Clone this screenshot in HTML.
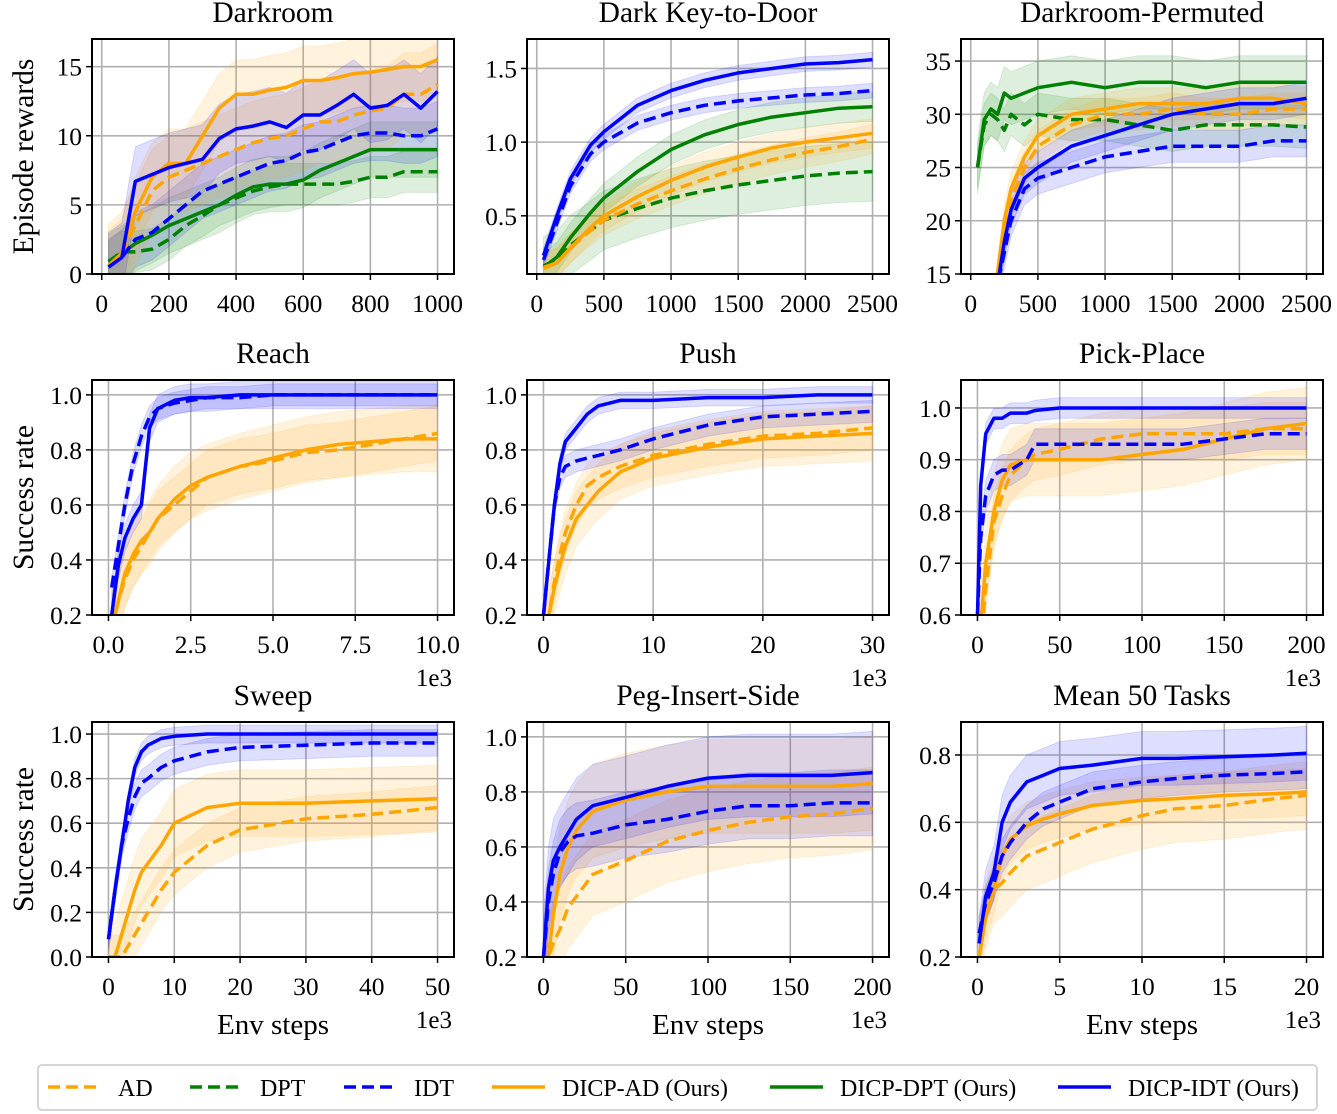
<!DOCTYPE html>
<html><head><meta charset="utf-8"><style>
html,body{margin:0;padding:0;background:#fff;}
svg{display:block;font-family:"Liberation Serif",serif;}
</style></head><body>
<svg id="fig" width="1337" height="1114" viewBox="0 0 1337 1114" xmlns="http://www.w3.org/2000/svg"></svg>
<script>
// ---- data ----
const p1_x=[20,60,100,150,200,250,300,350,400,450,500,550,600,650,700,750,800,850,900,950,1000];
const p1_dicpAD=[0.6,1.5,4.5,7,8,8,10,12,13,13,13.3,13.5,14,14,14.2,14.5,14.6,14.8,15,15,15.5];
const p1_AD=[0.6,1.5,3.5,6,7,7.5,8,8.5,9,9.5,9.8,10,10.5,11,11,11.5,11.8,12,13,13,13.7];
const p1_dicpIDT=[0.5,1.2,6.7,7.2,7.7,8,8.3,9.8,10.5,10.7,11,10.6,11.5,11.5,12.2,13,12,12.2,13,12,13.2];
const p1_IDT=[0.5,1.2,2.5,3,4,5,6,6.5,7,7.5,8,8.2,8.8,9,9.5,10,10.2,10.2,10,10,10.5];
const p1_dicpDPT=[0.9,1.5,2.2,2.8,3.5,4,4.5,5,5.7,6.3,6.5,6.5,6.8,7.5,8,8.5,9,9,9,9,9];
const p1_DPT=[0.9,1.6,1.6,1.8,2.5,3.5,4.2,5,5.5,6,6.3,6.5,6.5,6.5,6.5,6.7,7,7,7.4,7.4,7.4];

const p2_x=[50,150,250,400,500,750,1000,1250,1500,1750,2000,2250,2500];
const p2_dicpIDT=[0.23,0.5,0.75,0.98,1.07,1.25,1.35,1.42,1.47,1.5,1.53,1.54,1.56];
const p2_IDT=[0.2,0.45,0.7,0.92,1.0,1.13,1.2,1.25,1.28,1.3,1.32,1.33,1.35];
const p2_dicpDPT=[0.15,0.22,0.35,0.52,0.62,0.8,0.95,1.05,1.12,1.17,1.2,1.23,1.24];
const p2_dicpAD=[0.15,0.18,0.28,0.42,0.5,0.63,0.74,0.83,0.9,0.96,1.0,1.03,1.06];
const p2_AD=[0.14,0.18,0.28,0.4,0.47,0.58,0.67,0.75,0.82,0.88,0.93,0.97,1.02];
const p2_DPT=[0.16,0.2,0.3,0.4,0.47,0.55,0.62,0.67,0.71,0.74,0.77,0.79,0.8];

const p3_x=[50,100,150,200,250,300,400,500,750,1000,1250,1500,1750,2000,2250,2500];
const p3_dicpDPT=[25,29.5,30.5,30,32,31.5,32,32.5,33,32.5,33,33,32.5,33,33,33];
const p3_DPT=[25,29,30,29.5,28.5,30,29,30,29.5,29.5,29,28.5,29,29,29,28.8];
const p3_dicpAD=[5,5,10,15,20,23,26,28,30,30.5,31,31,31,31.5,31.5,31];
const p3_AD=[5,5,10,15,19,22,25,27,29,30,30,30.5,30,30,30.5,30.5];
const p3_dicpIDT=[5,5,10,14,18,21,24,25,27,28,29,30,30.5,31,31,31.5];
const p3_IDT=[5,5,10,14,17,20,23,24,25,26,26.5,27,27,27,27.5,27.5];

const p4_x=[0.1,0.3,0.5,0.75,1,1.25,1.5,2,2.5,3,4,5,6,7,8,9,10];
const p4_dicpIDT=[0.2,0.38,0.48,0.55,0.6,0.88,0.95,0.98,0.99,0.99,1,1,1,1,1,1,1];
const p4_IDT=[0.3,0.45,0.6,0.75,0.85,0.92,0.95,0.97,0.98,0.99,0.99,1,1,1,1,1,1];
const p4_dicpAD=[0.15,0.25,0.35,0.42,0.47,0.5,0.55,0.62,0.67,0.7,0.74,0.77,0.8,0.82,0.83,0.84,0.84];
const p4_AD=[0.15,0.25,0.33,0.4,0.45,0.5,0.55,0.6,0.65,0.7,0.74,0.76,0.79,0.8,0.82,0.84,0.86];

const p5_x=[0,0.5,1,1.5,2,3,4,5,7,10,15,20,25,30];
const p5_dicpIDT=[0.2,0.4,0.6,0.75,0.83,0.88,0.93,0.96,0.98,0.98,0.99,0.99,1,1];
const p5_IDT=[0.2,0.4,0.6,0.7,0.74,0.76,0.77,0.78,0.8,0.84,0.89,0.92,0.93,0.94];
const p5_dicpAD=[0.1,0.2,0.3,0.38,0.45,0.55,0.6,0.65,0.72,0.77,0.81,0.84,0.85,0.86];
const p5_AD=[0.1,0.2,0.32,0.42,0.5,0.6,0.67,0.7,0.74,0.78,0.82,0.85,0.86,0.88];

const p6_x=[0,2,5,10,15,20,30,35,50,75,100,125,150,175,200];
const p6_dicpIDT=[0.6,0.85,0.95,0.98,0.98,0.99,0.99,0.995,1,1,1,1,1,1,1];
const p6_IDT=[0.6,0.75,0.83,0.87,0.88,0.88,0.9,0.93,0.93,0.93,0.93,0.93,0.94,0.95,0.95];
const p6_dicpAD=[0.5,0.58,0.7,0.8,0.86,0.89,0.9,0.9,0.9,0.9,0.91,0.92,0.94,0.96,0.97];
const p6_AD=[0.5,0.55,0.65,0.78,0.83,0.87,0.9,0.91,0.92,0.94,0.95,0.95,0.95,0.96,0.96];

const p7_x=[0,1,2,3,4,5,6,8,10,15,20,30,40,50];
const p7_dicpIDT=[0.08,0.3,0.5,0.7,0.85,0.92,0.95,0.98,0.99,1,1,1,1,1];
const p7_IDT=[0.08,0.3,0.5,0.62,0.72,0.78,0.8,0.85,0.88,0.92,0.94,0.95,0.96,0.96];
const p7_dicpAD=[0,0,0.1,0.2,0.3,0.38,0.42,0.5,0.6,0.67,0.69,0.69,0.7,0.71];
const p7_AD=[0,0,0,0.05,0.1,0.15,0.2,0.3,0.38,0.5,0.57,0.62,0.64,0.67];

const p8_x=[0,3,6,10,15,20,30,50,75,100,125,150,175,200];
const p8_dicpIDT=[0.2,0.45,0.55,0.6,0.65,0.7,0.75,0.78,0.82,0.85,0.86,0.86,0.86,0.87];
const p8_IDT=[0.2,0.4,0.5,0.58,0.62,0.64,0.65,0.68,0.7,0.73,0.75,0.75,0.76,0.76];
const p8_dicpAD=[0.15,0.2,0.35,0.5,0.6,0.66,0.73,0.77,0.8,0.82,0.82,0.82,0.82,0.83];
const p8_AD=[0.15,0.2,0.25,0.3,0.38,0.42,0.5,0.55,0.62,0.66,0.69,0.71,0.72,0.74];

const p9_x=[0.1,0.5,1,1.5,2,3,4,5,7,10,12,15,18,20];
const p9_dicpIDT=[0.24,0.38,0.45,0.6,0.66,0.72,0.74,0.76,0.77,0.79,0.79,0.795,0.8,0.805];
const p9_IDT=[0.27,0.36,0.42,0.5,0.54,0.6,0.64,0.66,0.7,0.72,0.73,0.74,0.745,0.75];
const p9_dicpAD=[0.2,0.32,0.4,0.5,0.55,0.59,0.61,0.625,0.65,0.665,0.67,0.68,0.685,0.69];
const p9_AD=[0.2,0.32,0.4,0.42,0.45,0.5,0.52,0.54,0.58,0.62,0.64,0.65,0.67,0.68];

const panelTitles=["Darkroom","Dark Key-to-Door","Darkroom-Permuted","Reach","Push","Pick-Place","Sweep","Peg-Insert-Side","Mean 50 Tasks"];
const xTicks=[[0,200,400,600,800,1000],[0,500,1000,1500,2000,2500],[0,500,1000,1500,2000,2500],
 [0,2.5,5,7.5,10],[0,10,20,30],[0,50,100,150,200],[0,10,20,30,40,50],[0,50,100,150,200],[0,5,10,15,20]];
const xTickLabels=[["0","200","400","600","800","1000"],["0","500","1000","1500","2000","2500"],["0","500","1000","1500","2000","2500"],
 ["0.0","2.5","5.0","7.5","10.0"],["0","10","20","30"],["0","50","100","150","200"],["0","10","20","30","40","50"],["0","50","100","150","200"],["0","5","10","15","20"]];
const yTicks=[[0,5,10,15],[0.5,1.0,1.5],[15,20,25,30,35],[0.2,0.4,0.6,0.8,1.0],[0.2,0.4,0.6,0.8,1.0],[0.6,0.7,0.8,0.9,1.0],[0,0.2,0.4,0.6,0.8,1.0],[0.2,0.4,0.6,0.8,1.0],[0.2,0.4,0.6,0.8]];
const yTickLabels=[["0","5","10","15"],["0.5","1.0","1.5"],["15","20","25","30","35"],["0.2","0.4","0.6","0.8","1.0"],["0.2","0.4","0.6","0.8","1.0"],["0.6","0.7","0.8","0.9","1.0"],["0.0","0.2","0.4","0.6","0.8","1.0"],["0.2","0.4","0.6","0.8","1.0"],["0.2","0.4","0.6","0.8"]];

// series per panel: [name, x, y, spread]
const panelSeries=[
 [["DPT",p1_x,p1_DPT,1.5],["dicpDPT",p1_x,p1_dicpDPT,2],["IDT",p1_x,p1_IDT,2],["AD",p1_x,p1_AD,3],["dicpAD",p1_x,p1_dicpAD,2.5],["dicpIDT",p1_x,p1_dicpIDT,2.5]],
 [["DPT",p2_x,p2_DPT,0.2],["dicpDPT",p2_x,p2_dicpDPT,0.1],["AD",p2_x,p2_AD,0.1],["dicpAD",p2_x,p2_dicpAD,0.1],["IDT",p2_x,p2_IDT,0.05],["dicpIDT",p2_x,p2_dicpIDT,0.05]],
 [["DPT",p3_x,p3_DPT,2],["dicpDPT",p3_x,p3_dicpDPT,2.5],["AD",p3_x,p3_AD,1.5],["IDT",p3_x,p3_IDT,1.5],["dicpAD",p3_x,p3_dicpAD,1.5],["dicpIDT",p3_x,p3_dicpIDT,1.5]],
 [["AD",p4_x,p4_AD,0.1],["dicpAD",p4_x,p4_dicpAD,0.12],["IDT",p4_x,p4_IDT,0.04],["dicpIDT",p4_x,p4_dicpIDT,0.05]],
 [["AD",p5_x,p5_AD,0.08],["dicpAD",p5_x,p5_dicpAD,0.1],["IDT",p5_x,p5_IDT,0.04],["dicpIDT",p5_x,p5_dicpIDT,0.03]],
 [["AD",p6_x,p6_AD,0.05],["dicpAD",p6_x,p6_dicpAD,0.07],["IDT",p6_x,p6_IDT,0.03],["dicpIDT",p6_x,p6_dicpIDT,0.02]],
 [["AD",p7_x,p7_AD,0.1],["dicpAD",p7_x,p7_dicpAD,0.15],["IDT",p7_x,p7_IDT,0.06],["dicpIDT",p7_x,p7_dicpIDT,0.04]],
 [["AD",p8_x,p8_AD,0.15],["dicpAD",p8_x,p8_dicpAD,0.17],["IDT",p8_x,p8_IDT,0.12],["dicpIDT",p8_x,p8_dicpIDT,0.15]],
 [["AD",p9_x,p9_AD,0.1],["dicpAD",p9_x,p9_dicpAD,0.07],["IDT",p9_x,p9_IDT,0.05],["dicpIDT",p9_x,p9_dicpIDT,0.08]]
];

// ---- layout (not data) ----
const xLims=[[-29,1049],[-72.5,2622.5],[-72.5,2622.5],[-0.5,10.5],[-1.5,31.5],[-10,210],[-2.5,52.5],[-10,210],[-1,21]];
const yLims=[[0,17],[0.105,1.70],[15,37.07],[0.2,1.054],[0.2,1.054],[0.6,1.054],[0,1.054],[0.2,1.054],[0.2,0.898]];
const colL=[92,527,961], rowT=[39,380,722], W=362, H=235;
const styles={AD:["#FFA500",true],DPT:["#008000",true],IDT:["#0000FF",true],dicpAD:["#FFA500",false],dicpDPT:["#008000",false],dicpIDT:["#0000FF",false]};

const NS="http://www.w3.org/2000/svg";
const svg=document.getElementById('fig');
function mk(tag,attrs,parent){const e=document.createElementNS(NS,tag);for(const k in attrs)e.setAttribute(k,attrs[k]);(parent||svg).appendChild(e);return e;}

const defs=mk('defs',{});
for(let p=0;p<9;p++){
  const L=colL[p%3], T=rowT[Math.floor(p/3)];
  const [x0,x1]=xLims[p],[y0,y1]=yLims[p];
  const sx=v=>L+(v-x0)/(x1-x0)*W;
  const sy=v=>T+H-(v-y0)/(y1-y0)*H;
  const g=mk('g',{});
  
  
  const cp=mk('clipPath',{id:'clip'+p},defs);
  mk('rect',{x:L,y:T,width:W,height:H},cp);
  xTicks[p].forEach(v=>{const l=mk('line',{x1:sx(v),x2:sx(v),y1:T,y2:T+H,stroke:'#b0b0b0','stroke-width':1.6},g);
    });
  yTicks[p].forEach(v=>{const l=mk('line',{x1:L,x2:L+W,y1:sy(v),y2:sy(v),stroke:'#b0b0b0','stroke-width':1.6},g);
    });
  const plot=mk('g',{'clip-path':'url(#clip'+p+')'},g);
  panelSeries[p].forEach(s=>{
    const [nm,xs,ys,sp]=s;const col=styles[nm][0];
    let d='';xs.forEach((x,i)=>{d+=(i?'L':'M')+sx(x).toFixed(1)+','+sy(ys[i]+sp).toFixed(1);});
    for(let i=xs.length-1;i>=0;i--)d+='L'+sx(xs[i]).toFixed(1)+','+sy(ys[i]-sp).toFixed(1);
    const b=mk('path',{d:d+'Z',fill:col,'fill-opacity':0.13,stroke:col,'stroke-opacity':0.12},plot);
    
  });
  panelSeries[p].forEach(s=>{
    const [nm,xs,ys]=s;const [col,dash]=styles[nm];
    let d='';xs.forEach((x,i)=>{d+=(i?'L':'M')+sx(x).toFixed(1)+','+sy(ys[i]).toFixed(1);});
    const a={d:d,fill:'none',stroke:col,'stroke-width':3.5,'stroke-linejoin':'round'};
    if(dash)a['stroke-dasharray']='12,6';
    const ln=mk('path',a,plot);
    
  });
  const fr=mk('rect',{x:L,y:T,width:W,height:H,fill:'none',stroke:'#000','stroke-width':2},g);
  
  xTicks[p].forEach((v,i)=>{mk('line',{x1:sx(v),x2:sx(v),y1:T+H,y2:T+H+6,stroke:'#000','stroke-width':1.5},g);
    const t=mk('text',{x:sx(v),y:T+H+38,'text-anchor':'middle','font-size':25.5},g);t.textContent=xTickLabels[p][i];
    });
  yTicks[p].forEach((v,i)=>{mk('line',{x1:L-6,x2:L,y1:sy(v),y2:sy(v),stroke:'#000','stroke-width':1.5},g);
    const t=mk('text',{x:L-10,y:sy(v)+9,'text-anchor':'end','font-size':25.5},g);t.textContent=yTickLabels[p][i];
    });
  const tt=mk('text',{x:L+W/2,y:T-17,'text-anchor':'middle','font-size':29.5},g);tt.textContent=panelTitles[p];
  
  if(p>=3){const e=mk('text',{x:L+W-2,y:T+H+71,'text-anchor':'end','font-size':25},g);e.textContent='1e3';
    }
  if(p>=6){const e=mk('text',{x:L+W/2,y:T+H+77,'text-anchor':'middle','font-size':29},g);e.textContent='Env steps';
    }
  if(p%3===0){const yl=p===0?'Episode rewards':'Success rate';const cy=T+H/2;
    const e=mk('text',{x:24,y:cy,'text-anchor':'middle','font-size':29.5,transform:'rotate(-90 24 '+cy+')'},g);
    e.setAttribute('dy','9');e.textContent=yl;
    }
}
const lg=mk('g',{});

mk('rect',{x:38,y:1065,width:1279,height:45,rx:4,fill:'#fff',stroke:'#d0d0d0','stroke-width':1.8},lg);
const legendNames=["AD","DPT","IDT","DICP-AD (Ours)","DICP-DPT (Ours)","DICP-IDT (Ours)"];
const legendKeys=["AD","DPT","IDT","dicpAD","dicpDPT","dicpIDT"];
const legendX=[48,190,344,492,770,1058];
legendKeys.forEach((k,i)=>{
  const [col,dash]=styles[k];const x=legendX[i];
  const eg=mk('g',{},lg);
  
  const a={x1:x,x2:x+53,y1:1087,y2:1087,stroke:col,'stroke-width':3.5};if(dash)a['stroke-dasharray']='12,6';
  mk('line',a,eg);
  const t=mk('text',{x:x+70,y:1096,'font-size':24},eg);t.textContent=legendNames[i];
});
</script>
</body></html>
